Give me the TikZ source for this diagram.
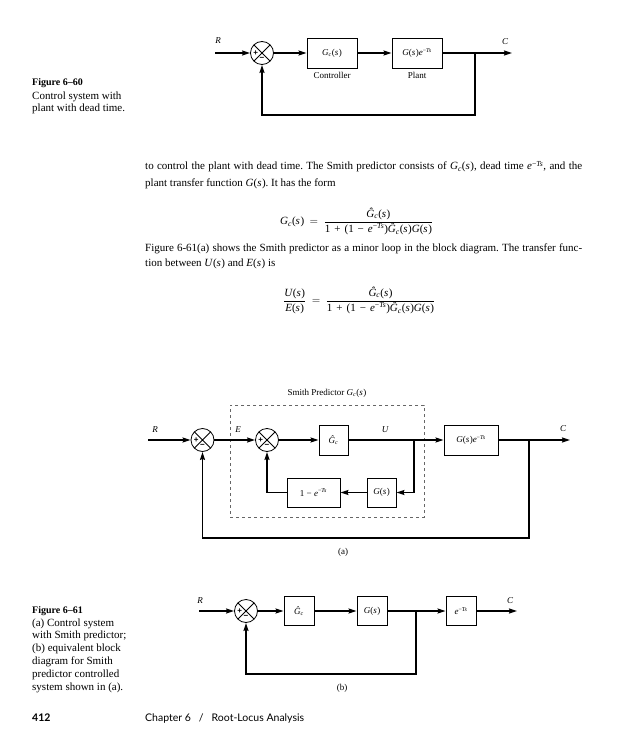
\documentclass[tikz,border=0pt]{standalone}
\usepackage{fontspec}
\setmainfont{Liberation Serif}
\newfontfamily\sfx{Lato}
\newfontfamily\sgnfont{Liberation Sans}
\usetikzlibrary{arrows.meta}
\frenchspacing
\newcommand{\vi}[1]{\textit{#1}}
\newcommand{\sv}{(\vi{s}\kern0.5pt)}
\newcommand{\Gcs}{\vi{G}\textsubscript{\vi{c}}\sv}
\newcommand{\Gh}{\vi{Ĝ}\textsubscript{\vi{c}}}
\newcommand{\Edt}{\vi{e}\textsuperscript{−\vi{Ts}}}
\newcommand{\den}{1\hspace{4pt}+\hspace{4pt}(1\hspace{4pt}−\hspace{4pt}\Edt)\Gh\sv\vi{G}\sv}
\newcommand{\sgns}[1]{%
  \node[pmk] (#1p) at ([xshift=-6.3pt]#1.center) {+};
  \node[pmk] (#1m) at ([yshift=-6.3pt]#1.center) {−};}
\tikzset{
  blk/.style={draw, line width=0.8pt, minimum height=30pt, inner sep=0pt, font=\fontsize{9}{10}\selectfont},
  sumj/.style={circle, draw, line width=0.8pt, minimum size=23pt, inner sep=0pt,
    path picture={
      \draw[line width=0.8pt] (path picture bounding box.north west) -- (path picture bounding box.south east)
        (path picture bounding box.north east) -- (path picture bounding box.south west);
    }},
  pmk/.style={font=\sgnfont\fontsize{8}{8}\selectfont\bfseries, inner sep=0pt, text=black},
  sig/.style={line width=1.5pt},
  arr/.style={sig, -{Stealth[length=8pt, width=5pt, inset=1pt]}},
  lbl/.style={font=\fontsize{9}{10}\selectfont\itshape, inner sep=0pt},
  small/.style={font=\fontsize{9}{10}\selectfont, inner sep=0pt},
  body/.style={anchor=base west, inner sep=0pt, font=\fontsize{11}{13}\selectfont},
  captxt/.style={anchor=base west, inner sep=0pt, font=\fontsize{11}{13}\selectfont},
  caphead/.style={anchor=base west, inner sep=0pt, font=\fontsize{10}{12}\selectfont\bfseries},
}
\begin{document}
\begin{tikzpicture}[x=1pt, y=-1pt]
\fill[white] (0,0) rectangle (638,738);
\useasboundingbox (0,0) rectangle (638,738);

% ---------- Figure 6-60 ----------
\node[caphead] (h60) at (32,86) {Figure 6–60};
\node[captxt] (c60a) at (32,99.5) {Control system with};
\node[captxt] (c60b) at (32,112) {plant with dead time.};

\coordinate (in0) at (215,53);
\node[sumj] (s0) at (262,53) {};
\node[blk, minimum width=50pt] (gc0) at (332,53) {\Gcs};
\node[blk, minimum width=50pt] (pl0) at (417,53) {\vi{G}\sv\Edt};
\coordinate (b0) at (475,53);
\coordinate (out0) at (512,53);
\coordinate (fb0) at (475,115);
\node[lbl] (lr0) at (218,41) {R};
\node[lbl] (lc0) at (505,42) {C};
\node[small] (ctl) at (332,75) {Controller};
\node[small] (plt) at (417,75) {Plant};
\draw[arr] (in0) -- (s0);
\draw[arr] (s0) -- (gc0);
\draw[arr] (gc0) -- (pl0);
\draw[arr] (pl0) -- (out0);
\draw[arr] (b0) -- (fb0) -| (s0);
\sgns{s0}

% ---------- Body text ----------
\node[body] (t1) at (145,170) {\makebox[437pt][s]{to control the plant with dead time. The Smith predictor consists of \Gcs, dead time \Edt, and the}};
\node[body] (t2) at (145,186) {plant transfer function \vi{G}\sv. It has the form};
\node[body] (eq1) at (280,224.5) {\Gcs\enspace$=$\enspace$\displaystyle\frac{\mbox{\Gh\sv}}{\mbox{\den}}$};
\node[body] (t3) at (145,251) {\makebox[437pt][s]{Figure 6-61(a) shows the Smith predictor as a minor loop in the block diagram. The transfer func-}};
\node[body] (t4) at (145,266) {tion between \vi{U}\sv\ and \vi{E}\sv\ is};
\node[body] (eq2) at (283,303.5) {$\displaystyle\frac{\mbox{\vi{U}\sv}}{\mbox{\vi{E}\sv}}$\enspace$=$\enspace$\displaystyle\frac{\mbox{\Gh\sv}}{\mbox{\den}}$};

% ---------- Figure 6-61 (a) ----------
\node[small] (spl) at (327,393) {Smith Predictor \Gcs};
\node[draw, dashed, line width=0.6pt, gray!80!black, minimum width=194pt, minimum height=112pt, inner sep=0pt] (sp) at (327,461) {};

\coordinate (in1) at (148,440);
\node[sumj] (s1) at (202.5,440) {};
\node[sumj] (s2) at (267,440) {};
\node[blk, minimum width=29pt] (gh1) at (333.5,440) {\Gh};
\coordinate (b1) at (414,440);
\node[blk, minimum width=54pt] (pl1) at (471,440) {\vi{G}\sv\Edt};
\coordinate (b2) at (529,440);
\coordinate (out1) at (570,440);
\node[blk, minimum width=29pt, minimum height=29pt] (g1) at (381.5,492.5) {\vi{G}\sv};
\node[blk, minimum width=53pt, minimum height=29pt] (oe1) at (313.5,492.5) {1 − \Edt};
\coordinate (c1) at (414,492.5);
\coordinate (fb1) at (529,538);
\node[lbl] (lr1) at (155,430) {R};
\node[lbl] (le1) at (238,430) {E};
\node[lbl] (lu1) at (385,430) {U};
\node[lbl] (lc1) at (563,429) {C};
\node[small] (la) at (343,552) {(a)};
\draw[arr] (in1) -- (s1);
\draw[arr] (s1) -- (s2);
\draw[arr] (s2) -- (gh1);
\draw[arr] (gh1) -- (pl1);
\draw[arr] (pl1) -- (out1);
\draw[arr] (b1) -- (c1) -- (g1);
\draw[arr] (g1) -- (oe1);
\draw[arr] (oe1) -| (s2);
\draw[arr] (b2) -- (fb1) -| (s1);
\sgns{s1}
\sgns{s2}

% ---------- Figure 6-61 (b) ----------
\node[caphead] (h61) at (32,613.7) {Figure 6–61};
\node[captxt] (c61a) at (32,626.3) {(a) Control system};
\node[captxt] (c61b) at (32,638.8) {with Smith predictor;};
\node[captxt] (c61c) at (32,651.5) {(b) equivalent block};
\node[captxt] (c61d) at (32,664.3) {diagram for Smith};
\node[captxt] (c61e) at (32,677.2) {predictor controlled};
\node[captxt] (c61f) at (32,690) {system shown in (a).};

\coordinate (in2) at (199,611);
\node[sumj] (s3) at (246,611) {};
\node[blk, minimum width=30pt, minimum height=29pt] (gh2) at (299,611) {\Gh};
\node[blk, minimum width=30pt, minimum height=29pt] (g2) at (372,611) {\vi{G}\sv};
\coordinate (b3) at (416,611);
\node[blk, minimum width=30pt, minimum height=29pt] (ed2) at (461,611) {\Edt};
\coordinate (out2) at (517,611);
\coordinate (fb2) at (416,674);
\node[lbl] (lr2) at (200,601) {R};
\node[lbl] (lc2) at (510,601) {C};
\node[small] (lb) at (342,688) {(b)};
\draw[arr] (in2) -- (s3);
\draw[arr] (s3) -- (gh2);
\draw[arr] (gh2) -- (g2);
\draw[arr] (g2) -- (ed2);
\draw[arr] (ed2) -- (out2);
\draw[arr] (b3) -- (fb2) -| (s3);
\sgns{s3}

% ---------- Footer ----------
\node[anchor=base west, inner sep=0pt, font=\sfx\fontsize{10.5}{12}\selectfont\bfseries] (pg) at (32,721) {412};
\node[anchor=base west, inner sep=0pt, font=\sfx\fontsize{10.5}{12}\selectfont] (chap) at (145,721) {Chapter 6\hspace{8pt}/\hspace{8pt}Root-Locus Analysis};
\end{tikzpicture}
\end{document}
